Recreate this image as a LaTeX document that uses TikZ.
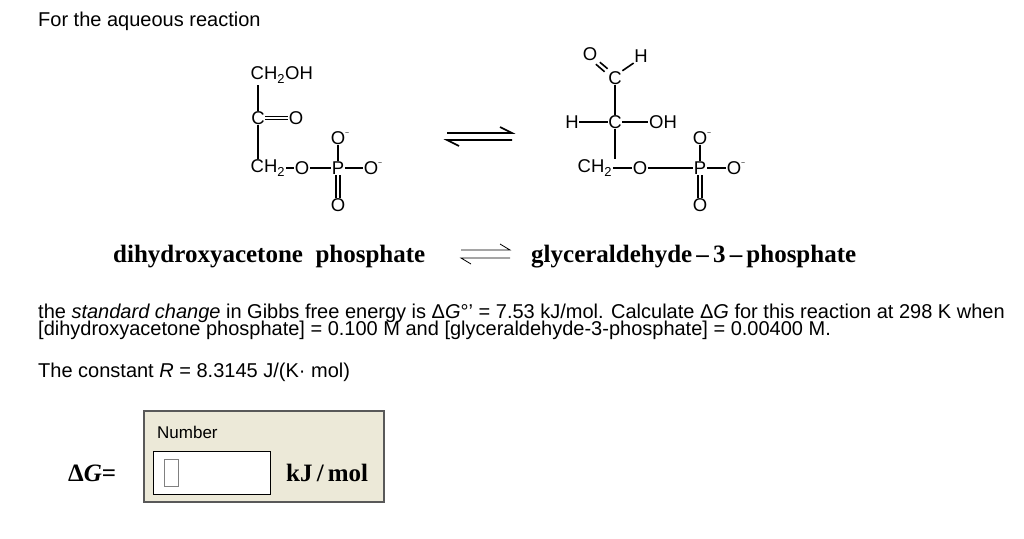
\documentclass[tikz,border=0pt]{standalone}
\usepackage{fontspec}
\setmainfont{Liberation Sans}
\newfontfamily\serifb{Liberation Serif}
\begin{document}
\begin{tikzpicture}[x=1pt,y=-1pt,
  txt/.style={inner sep=0pt,anchor=base west,font=\fontsize{20}{24}\selectfont},
  atm/.style={inner sep=0.5pt,font=\fontsize{18.5}{22}\selectfont},
  bd/.style={line width=1.6pt},
  nm/.style={inner sep=0pt,anchor=base west,font=\serifb\bfseries\fontsize{25}{30}\selectfont}]
\useasboundingbox (0,0) rectangle (1024,538);
\newcommand\negO{O\rlap{\raisebox{0.9ex}{\scriptsize\textminus}}}
\node[txt] (t1) at (38,27) {For the aqueous reaction};
% left molecule
\node[atm,anchor=west] (a1) at (250,75) {CH\textsubscript{2}OH};
\node[atm] (a2) at (258,118) {C};
\node[atm] (a3) at (296,118) {O};
\node[atm,anchor=west] (a4) at (250,168) {CH\textsubscript{2}};
\node[atm] (a5) at (302,168) {O};
\node[atm] (a6) at (338,168) {P};
\node[atm] (a7) at (371,168) {\negO};
\node[atm] (a8) at (338,138) {\negO};
\node[atm] (a9) at (338,205) {O};
\draw[bd] (258,85) -- (a2);
\draw[bd] (a2) -- (258,159);
\draw[bd] ([yshift=-1.6pt]a2.east) -- ([yshift=-1.6pt]a3.west);
\draw[bd] ([yshift=1.6pt]a2.east) -- ([yshift=1.6pt]a3.west);
\draw[bd] (a4.east) -- (a5);
\draw[bd] (a5) -- (a6);
\draw[bd] (a6) -- (a7);
\draw[bd] (a8) -- (a6);
\draw[bd] ([xshift=-2pt]a6.south) -- ([xshift=-2pt]a9.north);
\draw[bd] ([xshift=2pt]a6.south) -- ([xshift=2pt]a9.north);
% equilibrium arrow
\coordinate (e1) at (447,133); \coordinate (e2) at (512,133);
\coordinate (e3) at (447,140); \coordinate (e4) at (512,140);
\draw[line width=1.6pt] (e1) -- (e2) -- ++(-12,-6);
\draw[line width=1.6pt] (e4) -- (e3) -- ++(12,6);
% right molecule
\node[atm] (b1) at (590,54) {O};
\node[atm] (b2) at (641,56) {H};
\node[atm] (b3) at (615,78) {C};
\node[atm] (b4) at (572,122) {H};
\node[atm] (b5) at (615,122) {C};
\node[atm] (b6) at (663,122) {OH};
\node[atm,anchor=west] (b7) at (577,168) {CH\textsubscript{2}};
\node[atm] (b8) at (640,168) {O};
\node[atm] (b9) at (700,168) {P};
\node[atm] (b10) at (734,168) {\negO};
\node[atm] (b11) at (700,138) {\negO};
\node[atm] (b12) at (700,205) {O};
\draw[bd] ([xshift=-2pt,yshift=-3pt]b1.south east) -- ([xshift=-3pt,yshift=-1pt]b3.north west);
\draw[bd] ([xshift=2pt,yshift=-1pt]b1.south east) -- ([xshift=0pt,yshift=2pt]b3.north west);
\draw[bd] (b2.south west) -- (b3.north east);
\draw[bd] (b3) -- (b5);
\draw[bd] (b4) -- (b5);
\draw[bd] (b5) -- (b6);
\draw[bd] (b5) -- (615,159);
\draw[bd] (b7.east) -- (b8);
\draw[bd] (b8) -- (b9);
\draw[bd] (b9) -- (b10);
\draw[bd] (b11) -- (b9);
\draw[bd] ([xshift=-2pt]b9.south) -- ([xshift=-2pt]b12.north);
\draw[bd] ([xshift=2pt]b9.south) -- ([xshift=2pt]b12.north);
% names
\node[nm] (n1) at (113,262) {dihydroxyacetone\hspace{0.5em}phosphate};
\coordinate (f1) at (461,250); \coordinate (f2) at (510,250);
\coordinate (f3) at (461,258); \coordinate (f4) at (510,258);
\draw[line width=0.8pt] (f1) -- (f2) -- ++(-10,-6);
\draw[line width=0.8pt] (f4) -- (f3) -- ++(10,6);
\node[nm] (n2) at (531,262) {glyceraldehyde\,–\,3\,–\,phosphate};
% paragraph
\node[txt] (p1) at (38,318) {the \textit{standard change} in Gibbs free energy is Δ\textit{G}°' = 7.53 kJ/mol. Calculate Δ\textit{G} for this reaction at 298 K when};
\node[txt] (p2) at (38,335) {[dihydroxyacetone phosphate] = 0.100 M and [glyceraldehyde-3-phosphate] = 0.00400 M.};
\node[txt] (p3) at (38,377) {The constant \textit{R} = 8.3145 J/(K· mol)};
% answer box
\draw[draw=gray!70!black,line width=2.5pt,fill={rgb,255:red,236;green,233;blue,216}] (144,411) rectangle (384,502);
\node[txt,font=\fontsize{17}{20}\selectfont] (nb) at (157,438) {Number};
\draw[draw=black,line width=0.7pt,fill=white] (153,451) rectangle (270,494);
\draw[draw=gray,line width=0.7pt,fill=white] (164,459) rectangle (178,486);
\node[nm] (u) at (286,481) {kJ\,/\,mol};
\node[nm] (dg) at (68,481) {Δ\textit{G}=};
\end{tikzpicture}
\end{document}
